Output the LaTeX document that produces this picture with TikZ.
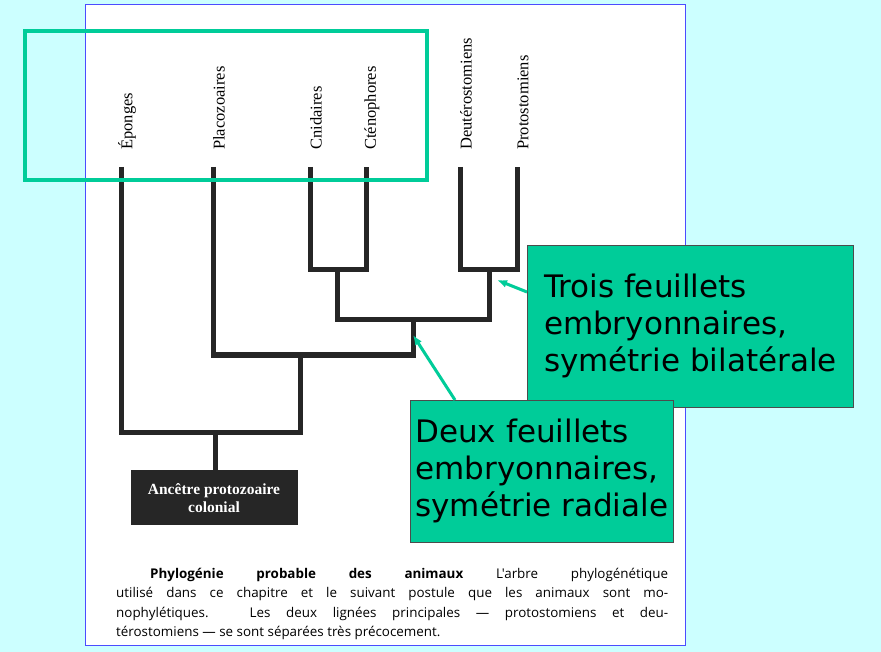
\documentclass[tikz,border=0pt]{standalone}
\usepackage{fontspec}
\setmainfont{Liberation Serif}
\newfontfamily\callfont{DejaVu Sans}
\newfontfamily\capfont{Open Sans}
\usetikzlibrary{arrows.meta}
\definecolor{callgreen}{RGB}{0,204,153}
\definecolor{bgcyan}{RGB}{204,255,255}
\newcommand{\capline}[1]{\hbox to 552pt{#1}}
\begin{document}
\begin{tikzpicture}[x=1pt,y=-1pt,
  br/.style={line width=5pt,black!85,line cap=butt,line join=miter},
  leaf/.style={rotate=90,anchor=west,font=\fontsize{16.5}{16}\selectfont,inner sep=0pt},
  callout/.style={draw=black!70,line width=0.8pt,fill=callgreen,anchor=north west,align=left,inner sep=5pt,font=\callfont\fontsize{31}{37}\selectfont},
  arr/.style={-{Latex[length=10pt,width=8pt]},line width=3pt,color=callgreen}]
\fill[bgcyan] (0,0) rectangle (881,652);
\useasboundingbox (0,0) rectangle (881,652);
\draw[fill=white,draw=blue!70,line width=1pt] (85,5) rectangle (685,645);
% leaf labels
\node[leaf] (ep) at (127,150) {Éponges};
\node[leaf] (pl) at (219,150) {Placozoaires};
\node[leaf] (cn) at (316,150) {Cnidaires};
\node[leaf] (ct) at (372,150) {Cténophores};
\node[leaf] (de) at (466,150) {Deutérostomiens};
\node[leaf] (pr) at (523,150) {Protostomiens};
% tree
\draw[br] (310,167) |- (337,270) -| (366,167);
\draw[br] (460,167) |- (489,270) -| (517,167);
\draw[br] (337,270) |- (413,320) -| (489,270);
\draw[br] (213,167) |- (300,355) -| (413,320);
\draw[br] (121,167) |- (215,432) -| (300,355);
\draw[br] (215,432) -- (215,470);
\node[fill=black!85,text=white,minimum width=167pt,minimum height=55pt,align=center,font=\fontsize{15.5}{18}\selectfont\bfseries,anchor=north] (root) at (214,470) {Ancêtre protozoaire\\colonial};
% green frame
\draw[line width=4pt,color=callgreen] (25,31) rectangle (427,180);
% callouts
\node[callout,minimum width=326pt,minimum height=162pt] (tr) at (527,245) {Trois feuillets\\embryonnaires,\\symétrie bilatérale};
\node[callout,minimum width=257pt,minimum height=142pt] (dx) at (410,400) {Deux feuillets\\embryonnaires,\\symétrie radiale};
\coordinate (t1) at (497,280);
\coordinate (t2) at (413,335);
\draw[arr] (tr.west |- 0,292) -- (t1);
\draw[arr] (455,400) -- (t2);
% caption
\node[anchor=north west,align=left,inner sep=0pt,font=\capfont\fontsize{13.4}{19.5}\selectfont] (cap) at (116,568)
{\capline{\hspace*{34pt}\textbf{Phylogénie probable des animaux} L'arbre phylogénétique}\\
\capline{utilisé dans ce chapitre et le suivant postule que les animaux sont mo-}\\
\capline{nophylétiques. Les deux lignées principales — protostomiens et deu-}\\
térostomiens — se sont séparées très précocement.};
\end{tikzpicture}
\end{document}
